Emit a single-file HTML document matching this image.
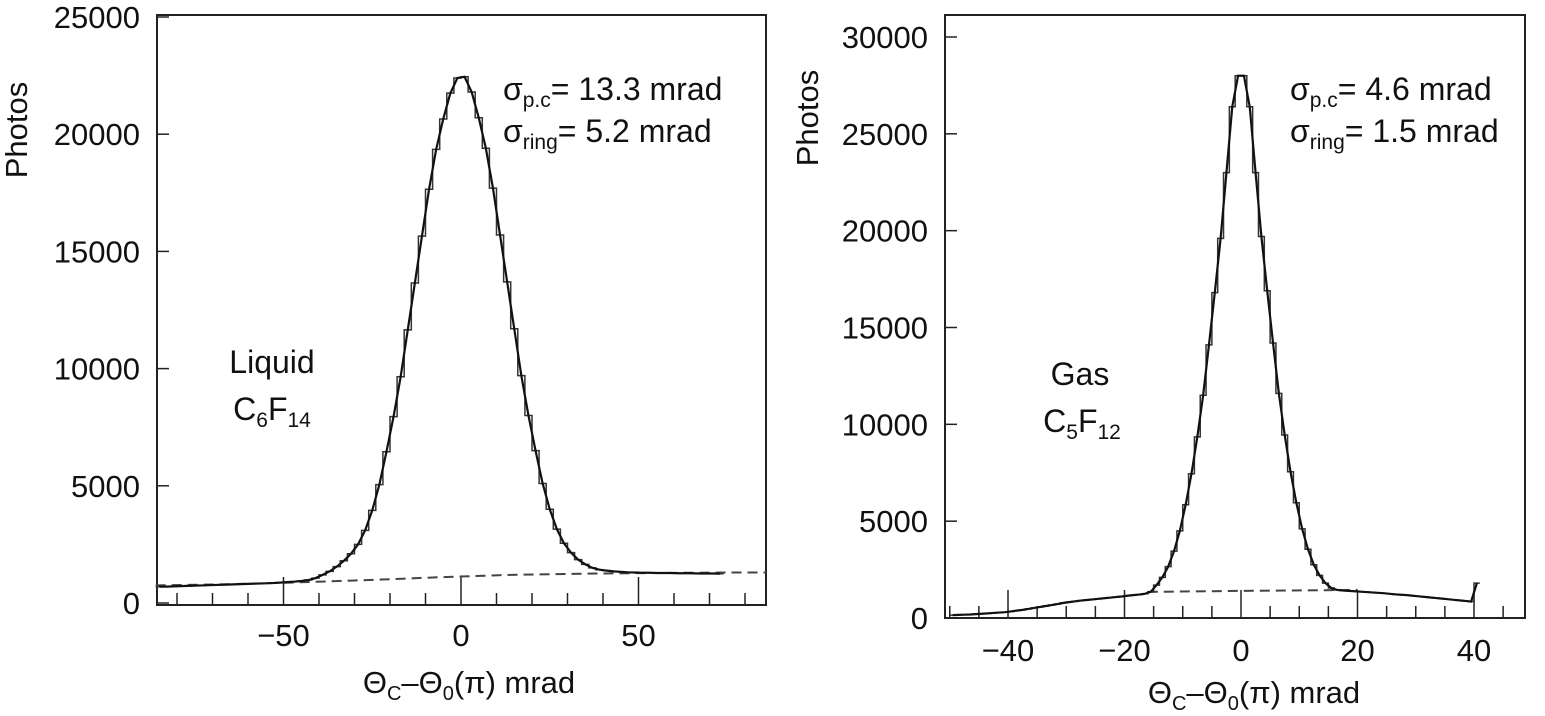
<!DOCTYPE html>
<html><head><meta charset="utf-8"><style>
html,body{margin:0;padding:0;background:#fff;}
svg{display:block;font-family:"Liberation Sans",sans-serif;}
</style></head><body>
<svg width="1545" height="716" viewBox="0 0 1545 716">
<g id="L"></g>
<g id="R"></g>
</svg>
<script>
// Left chart data (bins of 2 mrad from -86 to 74)
const leftBinStart = -86;
const leftBinWidth = 2;
const leftCounts = [700,700,710,720,730,740,750,760,770,780,790,800,810,820,830,840,850,870,890,910,940,980,1060,
1200,1350,1550,1800,2100,2500,3100,3950,5050,6450,7950,9650,11650,13650,15650,17650,19350,20650,21750,22400,
22450,21800,20700,19400,17700,15700,13700,11700,9700,8000,6500,5100,4000,3150,2550,2150,1850,1650,1500,1420,
1380,1350,1330,1310,1300,1290,1290,1280,1280,1280,1270,1270,1270,1260,1260,1260,1250];
const leftBgX = [-86,-66,-46,-26,-6,14,34,54,74,86];
const leftBgY = [750,800,880,980,1100,1200,1250,1280,1300,1300];
const leftXTicks = [-50,0,50];
const leftYTicks = [0,5000,10000,15000,20000,25000];
// Right chart data (bins of 1 mrad from -50 to 41)
const rightBinStart = -50;
const rightBinWidth = 1;
const rightCounts = [150,160,170,180,200,220,240,260,280,300,340,380,420,470,520,570,620,670,720,780,
820,860,900,930,960,990,1020,1050,1080,1110,
1150,1180,1210,1250,1350,1700,2100,2650,3450,4500,5850,7450,9350,11500,14100,16800,19600,23000,26400,28000,
28000,26400,23000,19700,16900,14200,11600,9450,7550,5950,4600,3550,2750,2200,1800,1550,1450,1420,1400,1380,
1360,1340,1320,1300,1280,1250,1220,1200,1180,1150,1120,1090,1060,1030,1000,970,940,910,880,850,1800];
const rightBgX = [-16,0,20];
const rightBgY = [1350,1400,1450];
const rightXTicks = [-40,-20,0,20,40];
const rightYTicks = [0,5000,10000,15000,20000,25000,30000];

const NS="http://www.w3.org/2000/svg";
function mk(parent,tag,attrs){const e=document.createElementNS(NS,tag);for(const k in attrs)e.setAttribute(k,attrs[k]);parent.appendChild(e);return e;}

function draw(g,cfg){
  const sx=v=>cfg.x0px+(v-cfg.xmin)*(cfg.x1px-cfg.x0px)/(cfg.xmax-cfg.xmin);
  const sy=v=>cfg.y0px-(v)*(cfg.y0px-cfg.y1px)/cfg.ymax;
  const fr=mk(g,'rect',{x:cfg.fl,y:cfg.ft,width:cfg.fr-cfg.fl,height:cfg.fb-cfg.ft,fill:'none',stroke:'#222','stroke-width':2});
  
  
  for(let v=Math.ceil(cfg.xmin/cfg.minor)*cfg.minor; v<=cfg.xmax; v+=cfg.minor){
    const major=cfg.xt.includes(v);
    const t=mk(g,'line',{x1:sx(v),x2:sx(v),y1:cfg.fb,y2:cfg.fb-(major?28:12),stroke:'#222','stroke-width':1.5});
    
    
  }
  cfg.xt.forEach(v=>{
    const t=mk(g,'text',{x:sx(v),y:cfg.xlabY,'font-size':31,'text-anchor':'middle',fill:'#111'});
    t.textContent=v<0?'\u2212'+(-v):String(v);
    
    
  });
  cfg.yt.forEach(v=>{
    const t=mk(g,'line',{x1:cfg.fl,x2:cfg.fl+12,y1:sy(v),y2:sy(v),stroke:'#222','stroke-width':1.5});
    
    
    const l=mk(g,'text',{x:cfg.fl-17,y:sy(v)+11,'font-size':31,'text-anchor':'end',fill:'#111'});
    l.textContent=String(v);
    
    
  });
  let d='';cfg.bgx.forEach((x,i)=>{d+=(i?'L':'M')+sx(x)+','+sy(cfg.bgy[i]);});
  const bg=mk(g,'path',{d:d,fill:'none',stroke:'#444','stroke-width':2,'stroke-dasharray':'10,6'});
  
  
  let h='';cfg.counts.forEach((c,i)=>{const a=cfg.bs+i*cfg.bw,b=a+cfg.bw;h+=(i?'L':'M')+sx(a)+','+sy(c)+'L'+sx(b)+','+sy(c);});
  const hp=mk(g,'path',{d:h,fill:'none',stroke:'#333','stroke-width':1.5});
  
  
  let f='';cfg.counts.forEach((c,i)=>{const a=cfg.bs+(i+0.5)*cfg.bw;f+=(i?'L':'M')+sx(a)+','+sy(c);});
  const fp=mk(g,'path',{d:f,fill:'none',stroke:'#111','stroke-width':2.2});
  
  
}
draw(document.getElementById('L'),{x0px:461-86*3.55,x1px:461+86*3.55,xmin:-86,xmax:86,y0px:603,y1px:17,ymax:25000,
  fl:157,fr:766,ft:15,fb:605,minor:10,xlabY:646,xt:leftXTicks,yt:leftYTicks,bgx:leftBgX,bgy:leftBgY,counts:leftCounts,bs:leftBinStart,bw:leftBinWidth});
draw(document.getElementById('R'),{x0px:1241-51*5.825,x1px:1241+48.8*5.825,xmin:-51,xmax:48.8,y0px:618,y1px:37,ymax:30000,
  fl:945,fr:1525,ft:15,fb:618,minor:5,xlabY:661,xt:rightXTicks,yt:rightYTicks,bgx:rightBgX,bgy:rightBgY,counts:rightCounts,bs:rightBinStart,bw:rightBinWidth});
</script>
<svg style="position:absolute;left:0;top:0" width="1545" height="716">
<g font-family="Liberation Sans, sans-serif" fill="#111">
<text x="27" y="130" font-size="31" transform="rotate(-90 27 130)" text-anchor="middle">Photos</text>
<text x="818" y="118" font-size="31" transform="rotate(-90 818 118)" text-anchor="middle">Photos</text>
<text x="469" y="693" font-size="31" text-anchor="middle">&#920;<tspan font-size="20" dy="7">C</tspan><tspan dy="-7">&#8211;&#920;</tspan><tspan font-size="20" dy="7">0</tspan><tspan dy="-7">(&#960;) mrad</tspan></text>
<text x="1254" y="703" font-size="31" text-anchor="middle">&#920;<tspan font-size="20" dy="7">C</tspan><tspan dy="-7">&#8211;&#920;</tspan><tspan font-size="20" dy="7">0</tspan><tspan dy="-7">(&#960;) mrad</tspan></text>
<text x="503" y="100" font-size="32">&#963;<tspan font-size="21" dy="7">p.c</tspan><tspan dy="-7">= 13.3 mrad</tspan></text>
<text x="503" y="142" font-size="32">&#963;<tspan font-size="21" dy="7">ring</tspan><tspan dy="-7">= 5.2 mrad</tspan></text>
<text x="1290" y="100" font-size="32">&#963;<tspan font-size="21" dy="7">p.c</tspan><tspan dy="-7">= 4.6 mrad</tspan></text>
<text x="1290" y="142" font-size="32">&#963;<tspan font-size="21" dy="7">ring</tspan><tspan dy="-7">= 1.5 mrad</tspan></text>
<text x="272" y="373" font-size="32" text-anchor="middle">Liquid</text>
<text x="272" y="420" font-size="32" text-anchor="middle">C<tspan font-size="21" dy="7">6</tspan><tspan dy="-7">F</tspan><tspan font-size="21" dy="7">14</tspan></text>
<text x="1080" y="385" font-size="32" text-anchor="middle">Gas</text>
<text x="1082" y="432" font-size="32" text-anchor="middle">C<tspan font-size="21" dy="7">5</tspan><tspan dy="-7">F</tspan><tspan font-size="21" dy="7">12</tspan></text>
</g>
</svg>
</body></html>
